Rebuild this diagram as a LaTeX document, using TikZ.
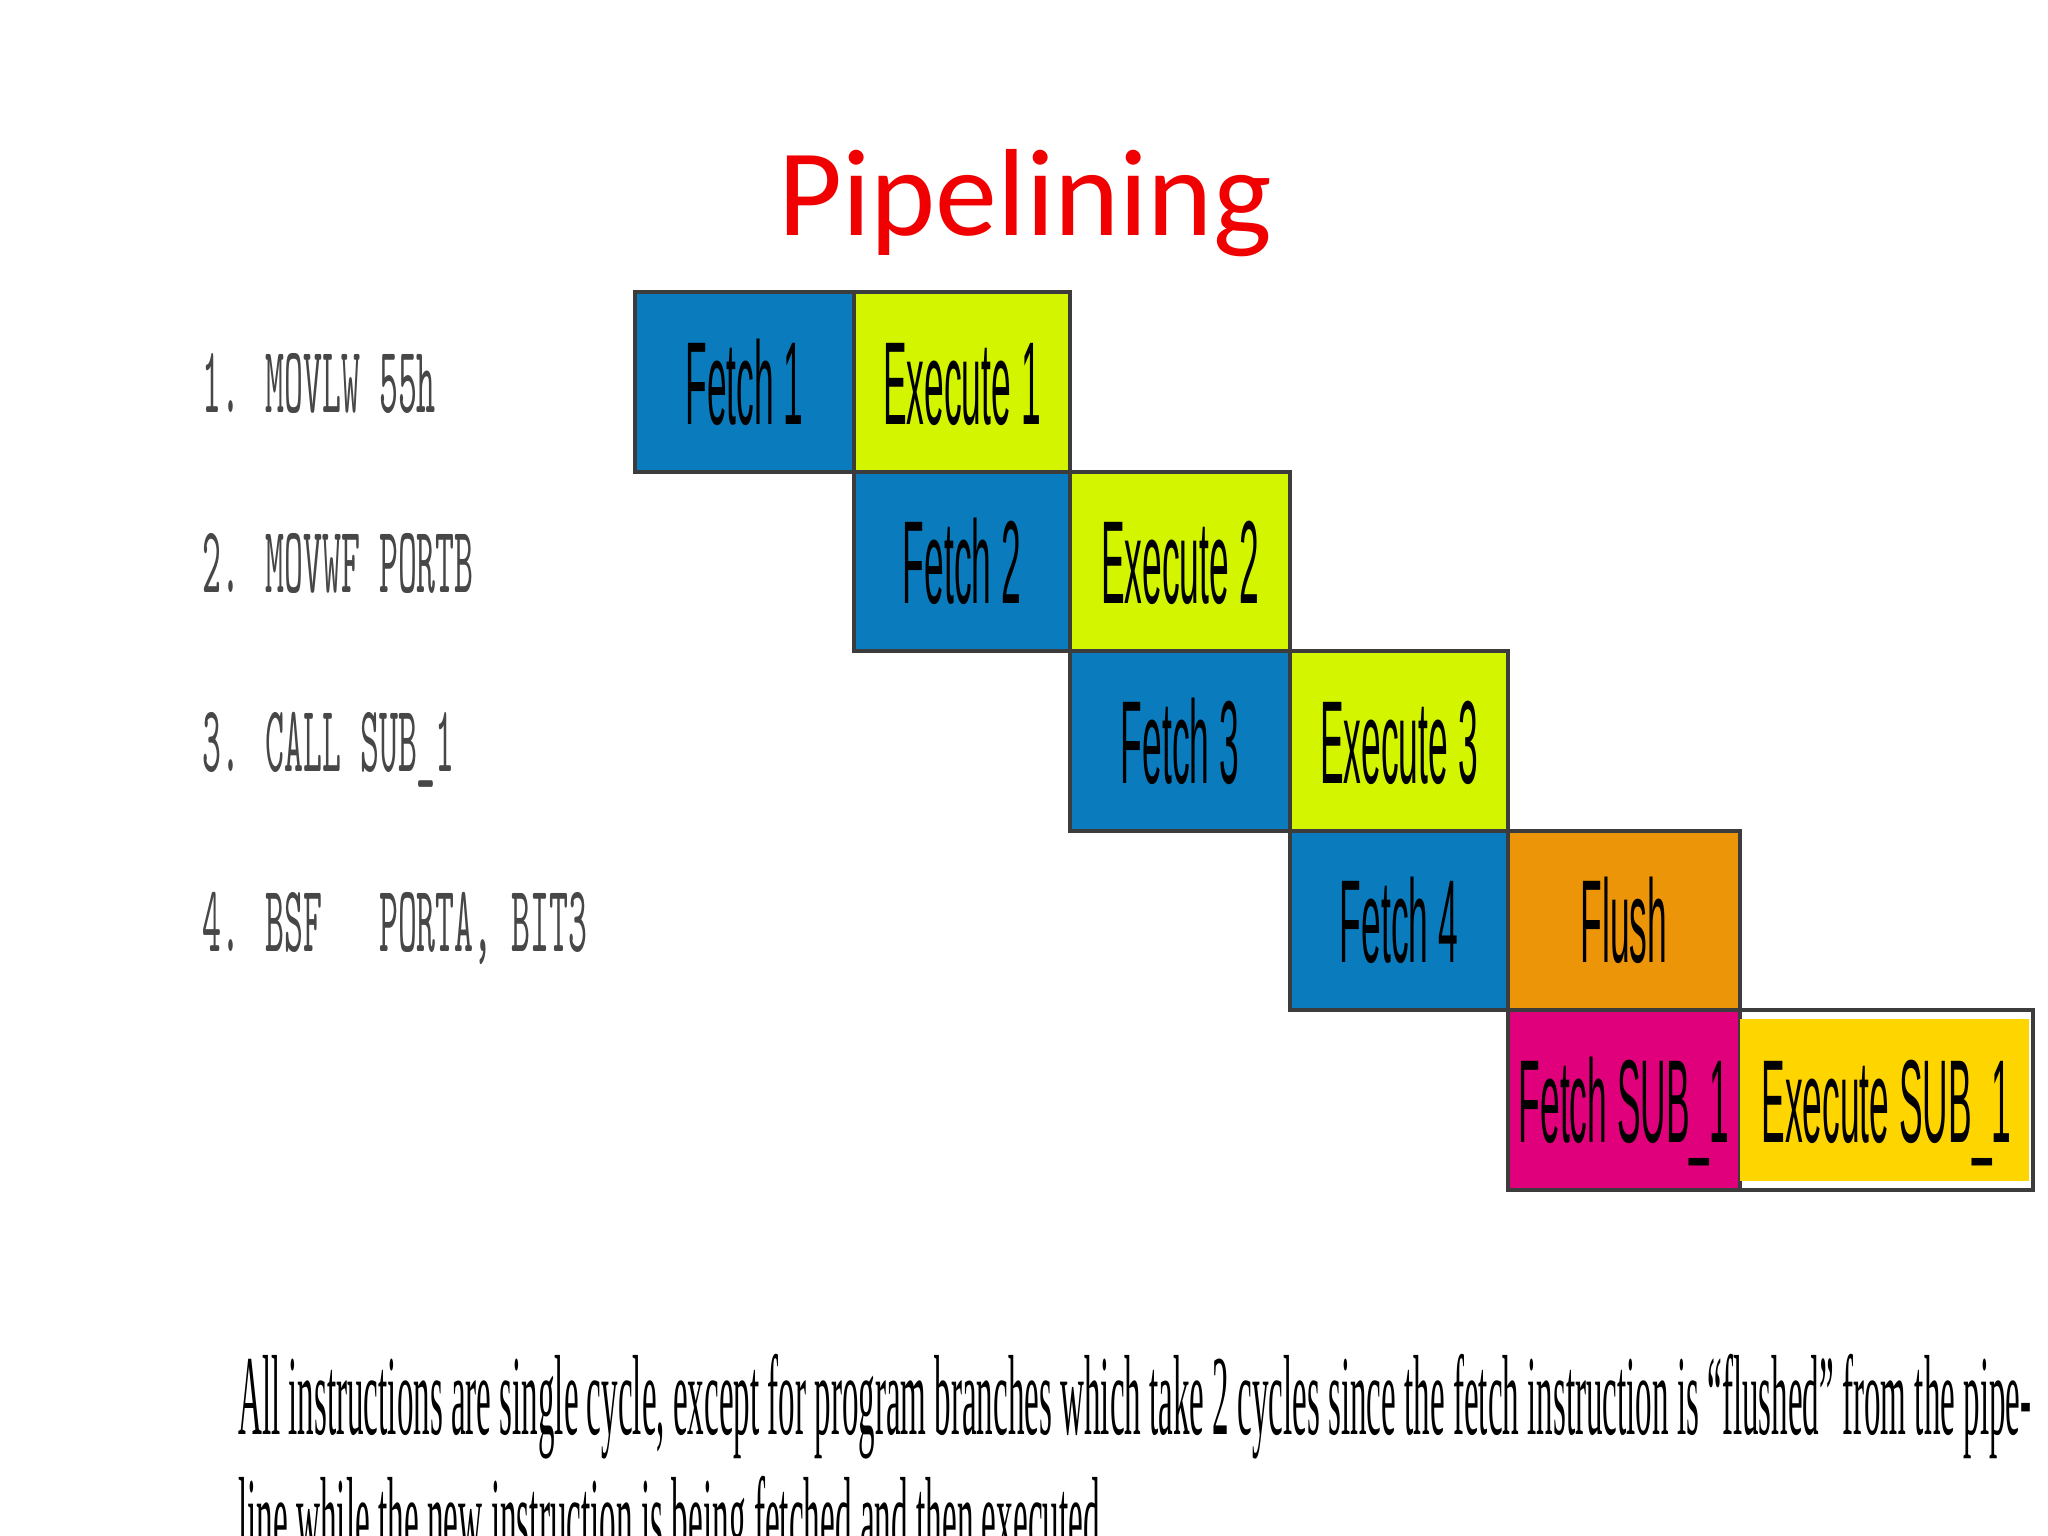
\documentclass[tikz,border=0pt]{standalone}
\usepackage{fontspec}
\usepackage{graphicx}
\newfontfamily\titlefont{Carlito}
\newfontfamily\boxfont[FakeStretch=0.3]{Liberation Sans}
\newfontfamily\codefont[FakeStretch=0.38]{lmmono10-regular.otf}
\newfontfamily\notefont{Liberation Serif}
\definecolor{fblue}{HTML}{0A7CBE}
\definecolor{elime}{HTML}{D4F500}
\definecolor{forange}{HTML}{EC9508}
\definecolor{fmag}{HTML}{E0007B}
\definecolor{egold}{HTML}{FFD500}
\definecolor{bord}{HTML}{3C3C3C}
\definecolor{titlered}{HTML}{F00000}
\tikzset{
  stagebox/.style={draw=bord, line width=4pt, anchor=north west, inner sep=0pt,
    font=\boxfont\fontsize{118pt}{130pt}\selectfont, text height=84.5pt, text depth=0pt},
  codelabel/.style={anchor=base west, inner sep=0pt, text=black!72,
    font=\codefont\fontsize{95pt}{110pt}\selectfont},
  noteline/.style={anchor=base west, inner sep=0pt,
    font=\notefont\fontsize{114pt}{122pt}\selectfont}
}
\begin{document}
\begin{tikzpicture}[x=1pt,y=-1pt]
\useasboundingbox (0,0) rectangle (2048,1536);
\clip (0,0) rectangle (2048,1536);
\fill[white] (0,0) rectangle (2048,1536);

\node[anchor=base, inner sep=0pt, text=titlered, font=\titlefont\fontsize{124pt}{140pt}\selectfont] (title) at (1025,235) {Pipelining};

\node[codelabel] (l1) at (202,412) {1. MOVLW 55h};
\node[codelabel] (l2) at (202,592) {2. MOVWF PORTB};
\node[codelabel] (l3) at (202,771) {3. CALL SUB\_1};
\node[codelabel] (l4) at (202,951) {4. BSF\ \ \ PORTA, BIT3};

\node[stagebox, fill=fblue, minimum width=219pt, minimum height=180pt] (f1) at (633,290) {Fetch 1};
\node[stagebox, fill=elime, minimum width=216pt, minimum height=180pt] (e1) at (852,290) {Execute 1};
\node[stagebox, fill=fblue, minimum width=216pt, minimum height=179pt] (f2) at (852,470) {Fetch 2};
\node[stagebox, fill=elime, minimum width=220pt, minimum height=179pt] (e2) at (1068,470) {Execute 2};
\node[stagebox, fill=fblue, minimum width=220pt, minimum height=180pt] (f3) at (1068,649) {Fetch 3};
\node[stagebox, fill=elime, minimum width=218pt, minimum height=180pt] (e3) at (1288,649) {Execute 3};
\node[stagebox, fill=fblue, minimum width=218pt, minimum height=179pt] (f4) at (1288,829) {Fetch 4};
\node[stagebox, fill=forange, minimum width=232pt, minimum height=179pt] (fl) at (1506,829) {Flush};
\node[stagebox, fill=fmag, minimum width=232pt, minimum height=180pt] (fs) at (1506,1008) {Fetch SUB\_1};
\node[stagebox, fill=white, minimum width=293pt, minimum height=180pt] (es) at (1738,1008) {};
\fill[egold] ([xshift=2pt,yshift=-11pt]es.north west) rectangle ([xshift=-6pt,yshift=11pt]es.south east);
\node[stagebox, draw=none, anchor=center] (est) at (es.center) {Execute SUB\_1};

\node[noteline] (n1) at (238,1434) {\resizebox{1793pt}{\height}{All instructions are single cycle, except for program branches which take 2 cycles since the fetch instruction is “flushed” from the pipe-}};
\node[noteline] (n2) at (238,1556) {\resizebox{870pt}{\height}{line while the new instruction is being fetched and then executed.}};
\end{tikzpicture}
\end{document}
